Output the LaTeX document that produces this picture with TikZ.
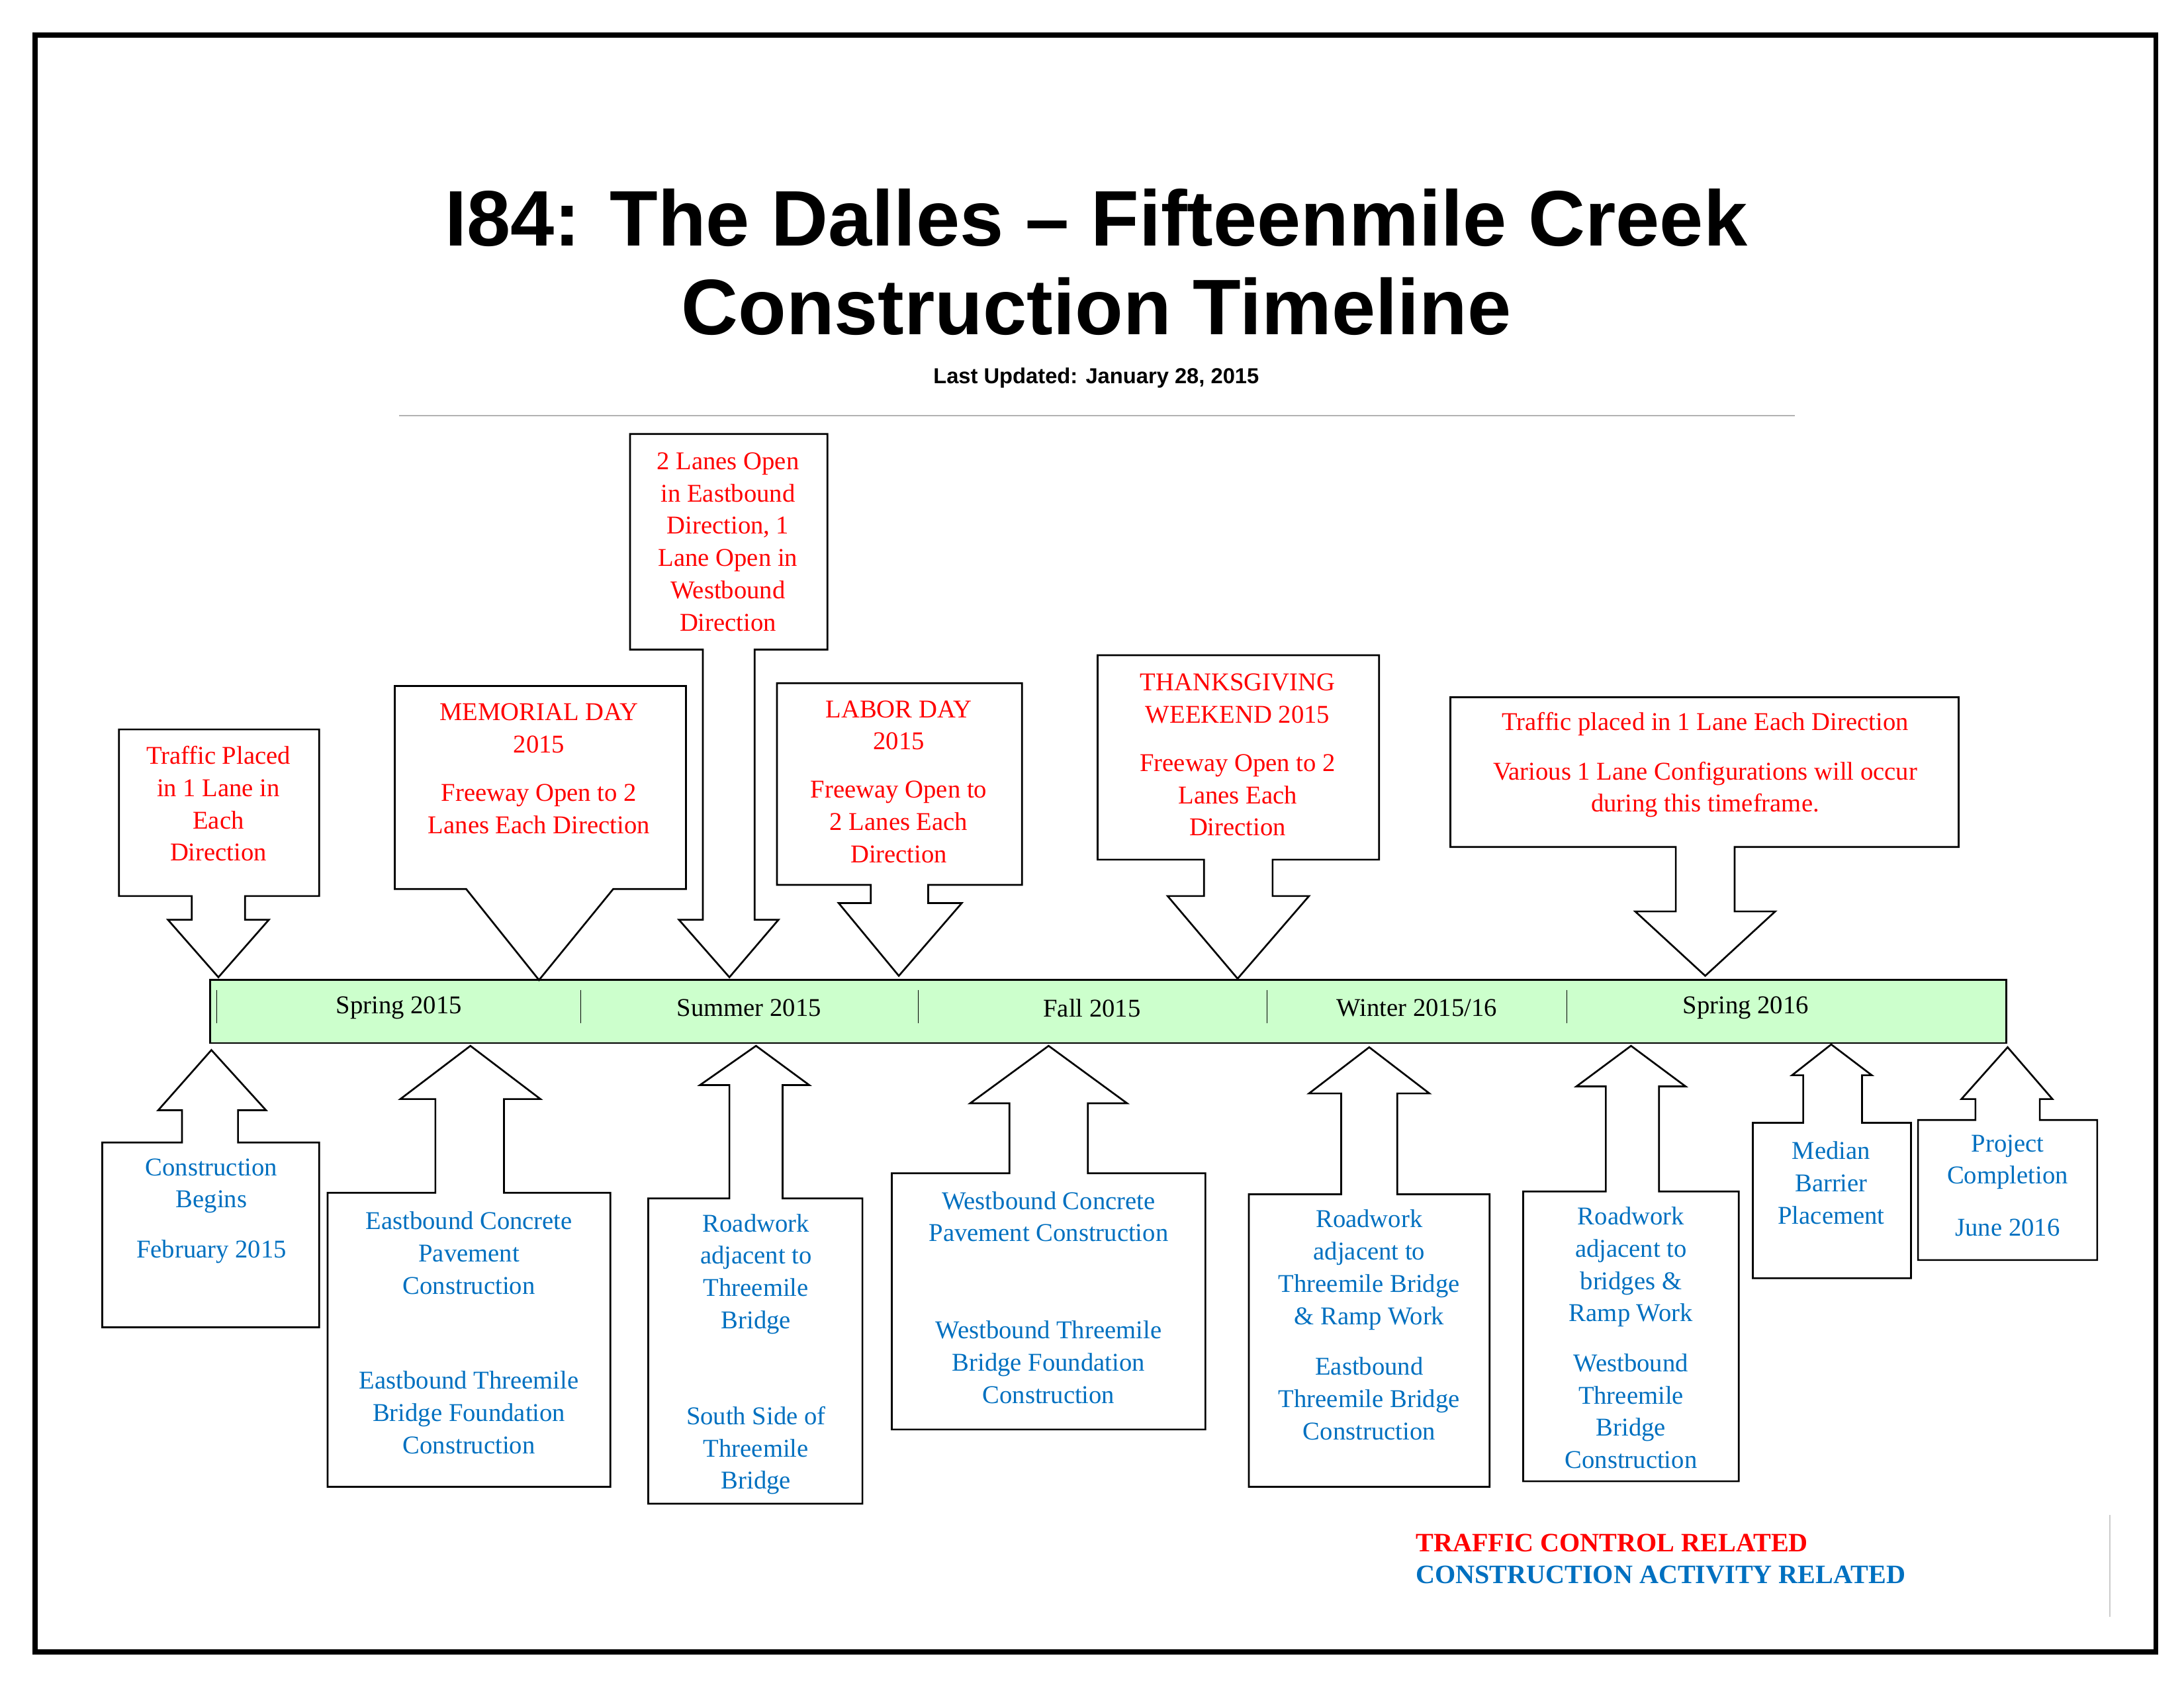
\documentclass[tikz,border=0pt]{standalone}
\usepackage{fontspec}
\setmainfont{Liberation Serif}
\newfontfamily\titlefont{Liberation Sans}
\definecolor{trafred}{RGB}{255,0,0}
\definecolor{workblue}{RGB}{0,112,192}
\definecolor{barfill}{RGB}{204,255,204}
\tikzset{
  callout/.style={draw, fill=white, line width=0.9pt},
  red txt/.style={text=trafred, align=center, inner sep=0pt, font=\fontsize{13}{16.4}\selectfont},
  blue txt/.style={text=workblue, align=center, inner sep=0pt, font=\fontsize{13}{16.4}\selectfont},
  season/.style={inner sep=0pt, font=\fontsize{13}{16.4}\selectfont},
}
\begin{document}
\begin{tikzpicture}[x=0.25mm,y=-0.25mm]%
   \useasboundingbox (0,0) rectangle (1560,1206);
   \draw[line width=2.5pt] (25,25) rectangle (1540,1180);
   % title
   \node[font=\titlefont\bfseries\fontsize{40}{45}\selectfont, align=center] (title) at (783,187) {I84: The Dalles \textendash{} Fifteenmile Creek\\Construction Timeline};
   \node[font=\titlefont\bfseries\fontsize{11}{13}\selectfont] (updated) at (783,270) {Last Updated: January 28, 2015};
   \draw[gray!60, line width=0.8pt] (285,297) -- (1282,297);
   % timeline bar
   \draw[fill=barfill, line width=0.9pt] (150,700) rectangle (1433,745);
   \foreach \x in {155,415,656,905,1119}
      \draw (\x,707) -- (\x,731);
   \node[season] (spring15) at (285,720) {Spring 2015};
   \node[season] (summer15) at (535,720) {Summer 2015};
   \node[season] (fall15) at (780,720) {Fall 2015};
   \node[season] (winter15) at (1012,720) {Winter 2015/16};
   \node[season] (spring16) at (1247,720) {Spring 2016};
   % traffic control callouts (pointing down)
   \draw[callout] (85,521) -- (228,521) -- (228,640) -- (175,640) -- (175,657) -- (192,657) -- (156,698) -- (120,657) -- (137,657) -- (137,640) -- (85,640) -- cycle;
   \node[red txt] (t1) at (156,574) {Traffic Placed\\in 1 Lane in\\Each\\Direction};
   \draw[callout] (282,490) -- (490,490) -- (490,635) -- (438,635) -- (385,700) -- (333,635) -- (282,635) -- cycle;
   \node[red txt] (t2a) at (385,520) {MEMORIAL DAY\\2015};
   \node[red txt] (t2b) at (385,578) {Freeway Open to 2\\Lanes Each Direction};
   \draw[callout] (450,310) -- (591,310) -- (591,464) -- (539,464) -- (539,657) -- (556,657) -- (521,698) -- (485,657) -- (502,657) -- (502,464) -- (450,464) -- cycle;
   \node[red txt] (t3) at (520,387) {2 Lanes Open\\in Eastbound\\Direction, 1\\Lane Open in\\Westbound\\Direction};
   \draw[callout] (555,488) -- (730,488) -- (730,632) -- (663,632) -- (663,645) -- (687,645) -- (642,697) -- (599,645) -- (622,645) -- (622,632) -- (555,632) -- cycle;
   \node[red txt] (t4a) at (642,518) {LABOR DAY\\2015};
   \node[red txt] (t4b) at (642,587) {Freeway Open to\\2 Lanes Each\\Direction};
   \draw[callout] (784,468) -- (985,468) -- (985,614) -- (909,614) -- (909,640) -- (935,640) -- (884,699) -- (834,640) -- (860,640) -- (860,614) -- (784,614) -- cycle;
   \node[red txt] (t5a) at (884,499) {THANKSGIVING\\WEEKEND 2015};
   \node[red txt] (t5b) at (884,568) {Freeway Open to 2\\Lanes Each\\Direction};
   \draw[callout] (1036,498) -- (1399,498) -- (1399,605) -- (1239,605) -- (1239,651) -- (1268,651) -- (1218,697) -- (1168,651) -- (1197,651) -- (1197,605) -- (1036,605) -- cycle;
   \node[red txt] (t6a) at (1218,517) {Traffic placed in 1 Lane Each Direction};
   \node[red txt] (t6b) at (1218,564) {Various 1 Lane Configurations will occur\\during this timeframe.};
   % construction callouts (pointing up)
   \draw[callout] (73,948) -- (228,948) -- (228,816) -- (170,816) -- (170,793) -- (190,793) -- (151,750) -- (113,793) -- (130,793) -- (130,816) -- (73,816) -- cycle;
   \node[blue txt] (c1a) at (151,847) {Construction\\Begins};
   \node[blue txt] (c1b) at (151,894) {February 2015};
   \draw[callout] (234,1062) -- (436,1062) -- (436,852) -- (360,852) -- (360,785) -- (386,785) -- (336,747) -- (286,785) -- (311,785) -- (311,852) -- (234,852) -- cycle;
   \node[blue txt] (c2a) at (335,895) {Eastbound Concrete\\Pavement\\Construction};
   \node[blue txt] (c2b) at (335,1009) {Eastbound Threemile\\Bridge Foundation\\Construction};
   \draw[callout] (463,1074) -- (616,1074) -- (616,856) -- (559,856) -- (559,775) -- (578,775) -- (540,747) -- (500,775) -- (521,775) -- (521,856) -- (463,856) -- cycle;
   \node[blue txt] (c3a) at (540,910) {Roadwork\\adjacent to\\Threemile\\Bridge};
   \node[blue txt] (c3b) at (540,1036) {South Side of\\Threemile\\Bridge};
   \draw[callout] (637,1021) -- (861,1021) -- (861,838) -- (777,838) -- (777,788) -- (805,788) -- (749,747) -- (693,788) -- (721,788) -- (721,838) -- (637,838) -- cycle;
   \node[blue txt] (c4a) at (749,869) {Westbound Concrete\\Pavement Construction};
   \node[blue txt] (c4b) at (749,973) {Westbound Threemile\\Bridge Foundation\\Construction};
   \draw[callout] (892,1062) -- (1064,1062) -- (1064,853) -- (998,853) -- (998,781) -- (1021,781) -- (978,748) -- (935,781) -- (958,781) -- (958,853) -- (892,853) -- cycle;
   \node[blue txt] (c5a) at (978,907) {Roadwork\\adjacent to\\Threemile Bridge\\\& Ramp Work};
   \node[blue txt] (c5b) at (978,999) {Eastbound\\Threemile Bridge\\Construction};
   \draw[callout] (1088,1058) -- (1242,1058) -- (1242,851) -- (1185,851) -- (1185,776) -- (1204,776) -- (1165,747) -- (1126,776) -- (1147,776) -- (1147,851) -- (1088,851) -- cycle;
   \node[blue txt] (c6a) at (1165,905) {Roadwork\\adjacent to\\bridges \&\\Ramp Work};
   \node[blue txt] (c6b) at (1165,1008) {Westbound\\Threemile\\Bridge\\Construction};
   \draw[callout] (1252,913) -- (1365,913) -- (1365,802) -- (1330,802) -- (1330,768) -- (1337,768) -- (1308,746) -- (1280,768) -- (1288,768) -- (1288,802) -- (1252,802) -- cycle;
   \node[blue txt] (c7) at (1308,845) {Median\\Barrier\\Placement};
   \draw[callout] (1370,900) -- (1498,900) -- (1498,800) -- (1457,800) -- (1457,785) -- (1466,785) -- (1434,748) -- (1401,785) -- (1411,785) -- (1411,800) -- (1370,800) -- cycle;
   \node[blue txt] (c8a) at (1434,830) {Project\\Completion};
   \node[blue txt] (c8b) at (1434,877) {June 2016};
   % legend
   \node[red txt, anchor=west, font=\bfseries\fontsize{13.5}{16.4}\selectfont] (legred) at (1011,1102) {TRAFFIC CONTROL RELATED};
   \node[blue txt, anchor=west, font=\bfseries\fontsize{13.5}{16.4}\selectfont] (legblue) at (1011,1125) {CONSTRUCTION ACTIVITY RELATED};
   \draw[gray!40] (1507,1082) -- (1507,1155);
\end{tikzpicture}
\end{document}
